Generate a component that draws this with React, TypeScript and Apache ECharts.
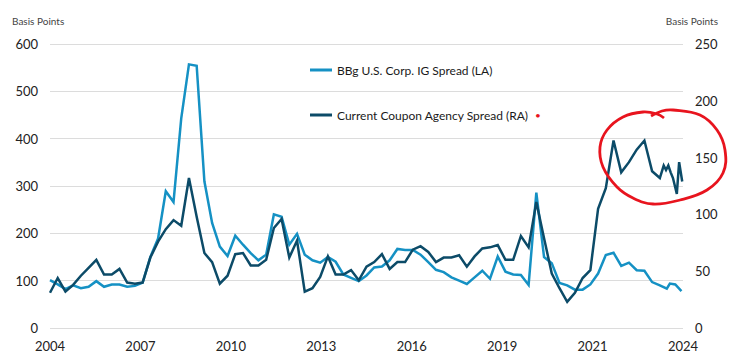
import { useEffect, useRef } from 'react';
import * as echarts from 'echarts';

const tickLabels = ['2004', '2007', '2010', '2013', '2016', '2019', '2021', '2024'];

const lightName = 'BBg U.S. Corp. IG Spread (LA)';
const darkName = 'Current Coupon Agency Spread (RA)';

// x: quarters since 2004 Q1
const lightX = [
  0, 1, 2, 3, 4, 5, 6, 7, 8, 9,
  10, 11, 12, 13, 14, 15, 16, 17, 18, 19,
  20, 21, 22, 23, 24, 25, 26, 27, 28, 29,
  30, 31, 32, 33, 34, 35, 36, 37, 38, 39,
  40, 41, 42, 43, 44, 45, 46, 47, 48, 49,
  50, 51, 52, 53, 54, 55, 56, 57, 58, 59,
  60, 61, 62, 63, 64, 65, 66, 67, 68, 69,
  70, 71, 72, 73, 74, 75, 76, 77, 78, 79,
  79.9, 80.3, 81, 81.8,
];
const lightY = [
  101, 92, 82, 90, 84, 87, 99, 87, 92, 92,
  87, 89, 96, 150, 189, 289, 266, 443, 557, 554,
  310, 222, 172, 152, 195, 176, 158, 143, 155, 240,
  235, 176, 199, 155, 143, 138, 150, 140, 113, 106,
  99, 111, 128, 130, 143, 167, 165, 165, 155, 139,
  123, 118, 107, 100, 93, 107, 121, 104, 151, 119,
  113, 112, 91, 286, 150, 137, 95, 90, 81, 81,
  92, 115, 154, 159, 131, 138, 122, 121, 97, 90,
  83, 94, 92, 78,
];

const darkX = [
  0, 1, 2, 3, 4, 5, 6, 7, 8, 9,
  10, 11, 12, 13, 14, 15, 16, 17, 18, 19,
  20, 21, 22, 23, 24, 25, 26, 27, 28, 29,
  30, 31, 32, 33, 34, 35, 36, 37, 38, 39,
  40, 41, 42, 43, 44, 45, 46, 47, 48, 49,
  50, 51, 52, 53, 54, 55, 56, 57, 58, 59,
  60, 61, 62, 63, 64, 65, 66, 67, 68, 69,
  70, 71, 72, 73, 74, 75, 76, 77, 78, 79,
  79.5, 79.8, 80.1, 80.4, 80.7, 81.2, 81.5, 81.9,
];
const darkY = [
  31, 44, 32, 38, 46, 53, 60, 47, 47, 52,
  40, 39, 40, 62, 76, 87, 95, 90, 132, 98,
  66, 58, 39, 46, 65, 66, 55, 55, 60, 88,
  96, 62, 77, 32, 35, 45, 63, 47, 47, 51,
  42, 54, 58, 65, 52, 58, 58, 69, 72, 67,
  58, 62, 62, 64, 54, 63, 70, 71, 73, 60,
  60, 81, 71, 111, 79, 48, 35, 23, 31, 44,
  51, 105, 123, 165, 137, 146, 157, 165, 138, 132,
  143, 139, 143, 137, 132, 118, 146, 129,
];

const leftTicks = { min: 0, max: 600, interval: 100 };
const rightTicks = { min: 0, max: 250, interval: 50 };

const FONT = 'Lato';

export default function App() {
  const ref = useRef<HTMLDivElement>(null);
  useEffect(() => {
    document.body.style.margin = '0';
    if (!ref.current) return;
    const chart = echarts.init(ref.current, undefined, { renderer: 'svg' });
    const lightData = lightX.map((x, i) => [x, lightY[i]]);
    const darkData = darkX.map((x, i) => [x, darkY[i]]);
    chart.setOption({
      animation: false,
      backgroundColor: '#ffffff',
      textStyle: { fontFamily: FONT },
      grid: { left: 50, right: 47, top: 44, bottom: 33 },
      legend: {
        orient: 'vertical',
        left: 305,
        top: 58,
        itemGap: 31,
        itemWidth: 22,
        itemHeight: 3,
        icon: 'rect',
        data: [lightName, darkName],
        formatter: (name: string) => (name === darkName ? `${name}  {dot|•}` : name),
        textStyle: {
          fontFamily: FONT,
          fontSize: 12,
          color: '#1a1a1a',
          lineHeight: 14,
          rich: { dot: { color: '#e8141e', fontSize: 10, fontFamily: FONT } },
        },
      },
      xAxis: [
        {
          type: 'value',
          min: 0,
          max: 82,
          show: false,
        },
        {
          type: 'category',
          data: tickLabels,
          boundaryGap: false,
          position: 'bottom',
          axisLine: { show: false },
          axisTick: { show: false },
          splitLine: { show: false },
          axisLabel: { color: '#222', fontSize: 13, margin: 11, fontFamily: FONT, interval: 0 },
        },
      ],
      yAxis: [
        {
          type: 'value',
          ...leftTicks,
          position: 'left',
          axisLine: { show: false },
          axisTick: { show: false },
          axisLabel: { color: '#222', fontSize: 13, margin: 12, fontFamily: FONT },
          splitLine: { lineStyle: { color: '#dcdcdc', width: 1 } },
        },
        {
          type: 'value',
          ...rightTicks,
          position: 'right',
          axisLine: { show: false },
          axisTick: { show: false },
          axisLabel: { color: '#222', fontSize: 13, margin: 12, fontFamily: FONT },
          splitLine: { show: false },
        },
      ],
      series: [
        {
          name: lightName,
          type: 'line',
          xAxisIndex: 0,
          yAxisIndex: 0,
          data: lightData,
          showSymbol: false,
          color: '#1591c4',
          lineStyle: { width: 2.5, color: '#1591c4', join: 'miter' },
          z: 2,
        },
        {
          name: darkName,
          type: 'line',
          xAxisIndex: 0,
          yAxisIndex: 1,
          data: darkData,
          showSymbol: false,
          color: '#0c4b68',
          lineStyle: { width: 2.5, color: '#0c4b68', join: 'miter' },
          z: 3,
        },
      ],
      graphic: [
        {
          type: 'text',
          left: 12,
          top: 16,
          style: { text: 'Basis Points', fontSize: 10, fill: '#444', fontFamily: FONT },
        },
        {
          type: 'text',
          right: 12,
          top: 16,
          style: { text: 'Basis Points', fontSize: 10, fill: '#444', fontFamily: FONT },
        },
        {
          type: 'polyline',
          z: 100,
          shape: {
            smooth: 0.4,
            points: [
              [651, 116], [662, 111], [673, 110], [700, 115], [717, 130], [725, 150],
              [723, 173], [707, 190], [680, 200], [653, 204], [633, 198], [617, 187],
              [603, 167], [600, 147], [607, 130], [623, 117], [643, 112], [657, 114], [664, 118],
            ],
          },
          style: { stroke: '#e8141e', lineWidth: 2.8, fill: null },
        },
      ],
    });
    return () => chart.dispose();
  }, []);
  return <div ref={ref} style={{ width: 730, height: 361 }} />;
}
